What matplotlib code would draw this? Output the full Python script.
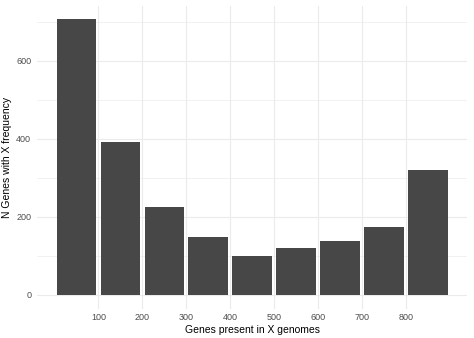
import matplotlib
matplotlib.use("Agg")
import matplotlib.pyplot as plt
from matplotlib.ticker import MultipleLocator

# histogram bins (centres) and counts
bin_centers = [50, 150, 250, 350, 450, 550, 650, 750, 850]
counts = [706, 391, 226, 148, 99, 121, 138, 173, 319]
x_ticks = [100, 200, 300, 400, 500, 600, 700, 800]
y_ticks = [0, 200, 400, 600]

plt.rcParams['font.family'] = ['Liberation Sans', 'DejaVu Sans']

fig = plt.figure(figsize=(4.74, 3.38), dpi=100)
ax = fig.add_axes([37.2 / 474, 1 - 308.5 / 338, (467.1 - 37.2) / 474, (308.5 - 5.7) / 338])

ax.bar(bin_centers, counts, width=90, color='#474747', zorder=3)

ax.set_xlim(-39.5, 939.5)
ax.set_ylim(-35.3, 741.3)
ax.set_xticks(x_ticks)
ax.set_yticks(y_ticks)
ax.yaxis.set_minor_locator(MultipleLocator(100))

ax.grid(True, which='major', color='#EBEBEB', linewidth=0.8, zorder=0)
ax.grid(True, which='minor', axis='y', color='#EBEBEB', linewidth=0.5, zorder=0)
ax.tick_params(which='both', length=0)
ax.tick_params(axis='x', labelsize=6.5, labelcolor='#4D4D4D', pad=3.5)
ax.tick_params(axis='y', labelsize=6.5, labelcolor='#4D4D4D', pad=4.3)
for s in ax.spines.values():
    s.set_visible(False)

ax.set_xlabel('Genes present in X genomes', fontsize=7.5, labelpad=2)
ax.set_ylabel('N Genes with X frequency', fontsize=7.5, labelpad=3)

fig.savefig('out.png', dpi=100)
